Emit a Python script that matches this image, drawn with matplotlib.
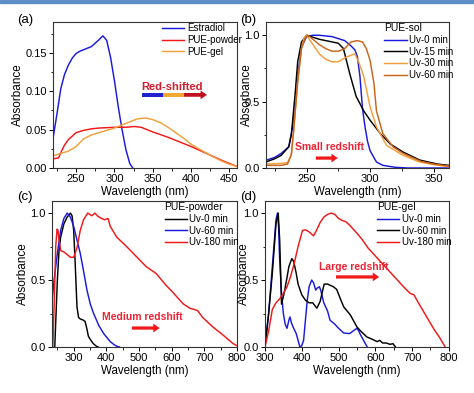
import matplotlib
matplotlib.use("Agg")
import matplotlib.pyplot as plt
from matplotlib.patches import Rectangle, FancyArrow
from matplotlib.ticker import AutoMinorLocator, MultipleLocator

plt.rcParams['font.family'] = ['Liberation Sans', 'DejaVu Sans']

# (a) estradiol vs PUE powder / gel
a_estr_x = [220, 225, 230, 235, 240, 245, 250, 255, 260, 270, 280, 285, 290, 295, 300, 305, 310, 315, 320, 324]
a_estr_y = [0.039, 0.070, 0.103, 0.122, 0.134, 0.143, 0.149, 0.152, 0.154, 0.158, 0.167, 0.172, 0.166, 0.144, 0.114, 0.080, 0.050, 0.024, 0.006, 0.0]
a_pow_x = [220, 227, 231, 235, 240, 250, 260, 270, 280, 300, 315, 326, 335, 350, 370, 400, 420, 440, 450, 460]
a_pow_y = [0.012, 0.013, 0.022, 0.030, 0.037, 0.046, 0.049, 0.051, 0.052, 0.053, 0.053, 0.054, 0.053, 0.047, 0.040, 0.028, 0.019, 0.010, 0.006, 0.002]
a_gel_x = [220, 230, 240, 250, 255, 260, 270, 280, 290, 300, 310, 320, 330, 341, 350, 360, 370, 380, 390, 400, 410, 428, 440, 450, 460]
a_gel_y = [0.016, 0.019, 0.022, 0.028, 0.033, 0.038, 0.043, 0.046, 0.049, 0.052, 0.056, 0.060, 0.064, 0.065, 0.063, 0.059, 0.053, 0.046, 0.039, 0.031, 0.025, 0.015, 0.009, 0.005, 0.002]

# (b) PUE-sol
b_uv0_x = [218, 225, 230, 236, 240, 243, 246, 250, 255, 260, 270, 280, 285, 288, 290, 292, 294, 296, 298, 300, 305, 310, 320, 330, 362]
b_uv0_y = [0.058, 0.08, 0.11, 0.16, 0.36, 0.69, 0.91, 0.99, 1.0, 1.0, 0.99, 0.96, 0.92, 0.89, 0.84, 0.69, 0.45, 0.31, 0.20, 0.13, 0.045, 0.02, 0.005, 0.0, 0.0]
b_uv15_x = [218, 225, 230, 236, 238, 241, 243, 246, 250, 260, 270, 275, 279, 284, 289, 295, 300, 308, 316, 326, 339, 353, 362]
b_uv15_y = [0.045, 0.07, 0.095, 0.16, 0.25, 0.56, 0.80, 0.95, 1.0, 0.97, 0.95, 0.94, 0.90, 0.71, 0.54, 0.43, 0.36, 0.26, 0.18, 0.12, 0.06, 0.03, 0.02]
b_uv30_x = [218, 230, 235, 238, 240, 243, 246, 248, 250, 255, 260, 265, 270, 275, 280, 285, 288, 291, 295, 300, 305, 313, 326, 339, 350, 362]
b_uv30_y = [0.03, 0.035, 0.04, 0.10, 0.30, 0.65, 0.90, 0.98, 1.0, 0.93, 0.86, 0.82, 0.80, 0.80, 0.83, 0.85, 0.86, 0.80, 0.69, 0.46, 0.31, 0.17, 0.095, 0.045, 0.025, 0.01]
b_uv60_x = [218, 230, 235, 238, 240, 243, 246, 249, 251, 255, 260, 265, 270, 275, 280, 285, 290, 294, 297, 300, 303, 305, 310, 318, 326, 340, 350, 362]
b_uv60_y = [0.02, 0.02, 0.03, 0.10, 0.30, 0.65, 0.90, 0.98, 1.0, 0.97, 0.93, 0.90, 0.88, 0.88, 0.90, 0.95, 0.96, 0.95, 0.90, 0.81, 0.64, 0.43, 0.26, 0.16, 0.11, 0.05, 0.03, 0.015]

# (c) PUE-powder
c_uv0_x = [242, 250, 255, 260, 270, 280, 290, 295, 300, 305, 310, 315, 320, 330, 335, 340, 345, 350, 360, 370, 375]
c_uv0_y = [0.0, 0.50, 0.72, 0.82, 0.92, 0.97, 1.0, 0.98, 0.87, 0.60, 0.30, 0.22, 0.21, 0.20, 0.19, 0.14, 0.08, 0.06, 0.025, 0.005, 0.0]
c_uv60_x = [234, 240, 250, 260, 270, 280, 290, 300, 310, 320, 330, 341, 351, 361, 377, 392, 412, 425, 433, 440]
c_uv60_y = [0.35, 0.50, 0.70, 0.87, 0.96, 1.0, 0.97, 0.90, 0.80, 0.70, 0.57, 0.42, 0.32, 0.25, 0.16, 0.10, 0.04, 0.015, 0.005, 0.0]
c_uv180_x = [236, 240, 245, 249, 252, 255, 260, 270, 280, 290, 300, 310, 320, 330, 343, 355, 365, 372, 385, 395, 405, 412, 432, 462, 492, 522, 552, 583, 603, 634, 655, 670, 680, 695, 726, 757, 788, 800]
c_uv180_y = [0.0, 0.30, 0.75, 0.88, 0.87, 0.80, 0.72, 0.71, 0.69, 0.67, 0.67, 0.74, 0.87, 0.95, 1.0, 0.98, 1.0, 0.98, 0.96, 0.95, 0.96, 0.90, 0.82, 0.75, 0.675, 0.60, 0.55, 0.46, 0.41, 0.325, 0.29, 0.28, 0.27, 0.22, 0.15, 0.09, 0.025, 0.01]

# (d) PUE-gel
d_uv0_x = [300, 310, 320, 330, 334, 337, 340, 345, 350, 355, 360, 365, 368, 372, 378, 385, 390, 395, 400, 405, 410, 415, 420, 427, 432, 438, 442, 448, 452, 460, 470, 477, 490, 500, 514, 530, 540, 550, 555, 560, 570, 578]
d_uv0_y = [0.0, 0.25, 0.60, 0.95, 1.0, 0.90, 0.65, 0.40, 0.25, 0.17, 0.14, 0.20, 0.225, 0.18, 0.14, 0.10, 0.05, 0.0, 0.01, 0.05, 0.20, 0.35, 0.45, 0.50, 0.48, 0.425, 0.44, 0.45, 0.42, 0.33, 0.27, 0.20, 0.17, 0.14, 0.105, 0.10, 0.12, 0.14, 0.12, 0.09, 0.04, 0.0]
d_uv60_x = [300, 310, 320, 330, 336, 340, 345, 352, 360, 365, 373, 378, 385, 390, 400, 410, 420, 430, 441, 450, 455, 461, 470, 486, 495, 505, 514, 532, 550, 560, 577, 590, 605, 612, 620, 630, 640, 648, 655]
d_uv60_y = [0.0, 0.25, 0.55, 0.92, 1.0, 0.80, 0.32, 0.40, 0.52, 0.60, 0.66, 0.64, 0.55, 0.47, 0.39, 0.35, 0.33, 0.33, 0.29, 0.34, 0.40, 0.47, 0.47, 0.45, 0.43, 0.36, 0.30, 0.24, 0.15, 0.12, 0.075, 0.06, 0.04, 0.05, 0.03, 0.03, 0.02, 0.025, 0.0]
d_uv180_x = [300, 310, 320, 330, 340, 350, 360, 370, 380, 390, 402, 410, 420, 432, 440, 450, 460, 470, 480, 490, 500, 510, 520, 530, 540, 550, 565, 580, 600, 620, 640, 660, 680, 695, 705, 715, 730, 745, 760, 775, 790]
d_uv180_y = [0.0, 0.12, 0.28, 0.33, 0.36, 0.40, 0.45, 0.53, 0.63, 0.75, 0.87, 0.875, 0.86, 0.83, 0.87, 0.93, 0.97, 0.99, 1.0, 0.99, 0.96, 0.945, 0.935, 0.91, 0.88, 0.85, 0.80, 0.74, 0.68, 0.62, 0.56, 0.50, 0.44, 0.40, 0.39, 0.34, 0.27, 0.20, 0.13, 0.07, 0.0]

BLUE = '#1a1adc'
RED = '#f01818'
ORANGE = '#f2a03c'
DORANGE = '#c8651c'
TXTRED = '#ee2233'

fig = plt.figure(figsize=(4.74, 3.93), dpi=100)
fig.patches.append(Rectangle((0, 1 - 3 / 393), 1, 3 / 393, transform=fig.transFigure,
                             color='#5d8fc6', zorder=0))

ax_a = fig.add_axes([0.112, 0.5725, 0.388, 0.3715])
ax_b = fig.add_axes([0.561, 0.5725, 0.386, 0.3715])
ax_c = fig.add_axes([0.110, 0.117, 0.390, 0.3715])
ax_d = fig.add_axes([0.559, 0.117, 0.388, 0.3715])


def style(ax):
    for s in ax.spines.values():
        s.set_linewidth(0.8)
        s.set_color('#333333')
    ax.xaxis.set_minor_locator(AutoMinorLocator(2))
    ax.yaxis.set_minor_locator(AutoMinorLocator(2))
    ax.tick_params(which='major', direction='out', length=3, width=0.7, labelsize=8, pad=1.5)
    ax.tick_params(which='minor', direction='out', length=1.8, width=0.6)
    ax.set_xlabel('Wavelength (nm)', fontsize=8.3, labelpad=1)
    ax.set_ylabel('Absorbance', fontsize=8.5, labelpad=1)


def legend(ax, x, title=None):
    leg = ax.legend(loc='upper left', bbox_to_anchor=(x, 1.0), frameon=False, fontsize=7,
                    handlelength=2.3, handletextpad=0.25, labelspacing=0.17, borderpad=0.15,
                    borderaxespad=0, title=title, title_fontsize=7.5, alignment='left')
    return leg


lw = 1.05

# (a)
ax_a.plot(a_estr_x, a_estr_y, color=BLUE, lw=lw, label='Estradiol')
ax_a.plot(a_pow_x, a_pow_y, color=RED, lw=lw, label='PUE-powder')
ax_a.plot(a_gel_x, a_gel_y, color=ORANGE, lw=lw, label='PUE-gel')
ax_a.set_xlim(220, 460)
ax_a.set_ylim(0, 0.19)
ax_a.xaxis.set_major_locator(MultipleLocator(50))
ax_a.yaxis.set_major_locator(MultipleLocator(0.05))
ax_a.yaxis.set_major_formatter('{x:.2f}')
style(ax_a)
legend(ax_a, 0.585)
ax_a.text(0.647, 0.555, 'Red-shifted', transform=ax_a.transAxes, ha='center', va='center',
          color='#d01c2c', fontsize=8, fontweight='bold')
ax_a.add_patch(Rectangle((0.484, 0.488), 0.114, 0.026, transform=ax_a.transAxes, color='#2222cc', lw=0))
ax_a.add_patch(Rectangle((0.598, 0.488), 0.114, 0.026, transform=ax_a.transAxes, color='#f0a830', lw=0))
ax_a.add_patch(FancyArrow(0.712, 0.501, 0.09, 0, width=0.026, head_width=0.06, head_length=0.035,
                          length_includes_head=False, transform=ax_a.transAxes, color='#c01020', lw=0))

# (b)
ax_b.plot(b_uv0_x, b_uv0_y, color=BLUE, lw=lw, label='Uv-0 min')
ax_b.plot(b_uv15_x, b_uv15_y, color='black', lw=lw, label='Uv-15 min')
ax_b.plot(b_uv30_x, b_uv30_y, color=ORANGE, lw=lw, label='Uv-30 min')
ax_b.plot(b_uv60_x, b_uv60_y, color=DORANGE, lw=lw, label='Uv-60 min')
ax_b.set_xlim(218, 362)
ax_b.set_ylim(0, 1.1)
ax_b.xaxis.set_major_locator(MultipleLocator(50))
ax_b.yaxis.set_major_locator(MultipleLocator(0.5))
style(ax_b)
ax_b.yaxis.labelpad = -6
legend(ax_b, 0.64, 'PUE-sol')
ax_b.text(0.35, 0.144, 'Small redshift', transform=ax_b.transAxes, ha='center', va='center',
          color=TXTRED, fontsize=7.5, fontweight='bold')
ax_b.add_patch(FancyArrow(0.273, 0.068, 0.085, 0, width=0.022, head_width=0.06, head_length=0.035,
                          transform=ax_b.transAxes, color=RED, lw=0))

# (c)
ax_c.plot(c_uv0_x, c_uv0_y, color='black', lw=lw, label='Uv-0 min')
ax_c.plot(c_uv60_x, c_uv60_y, color=BLUE, lw=lw, label='Uv-60 min')
ax_c.plot(c_uv180_x, c_uv180_y, color=RED, lw=lw, label='Uv-180 min')
ax_c.set_xlim(234, 800)
ax_c.set_ylim(0, 1.09)
ax_c.xaxis.set_major_locator(MultipleLocator(100))
ax_c.yaxis.set_major_locator(MultipleLocator(0.5))
style(ax_c)
legend(ax_c, 0.6, 'PUE-powder')
ax_c.text(0.486, 0.205, 'Medium redshift', transform=ax_c.transAxes, ha='center', va='center',
          color=TXTRED, fontsize=7.5, fontweight='bold')
ax_c.add_patch(FancyArrow(0.432, 0.13, 0.115, 0, width=0.022, head_width=0.06, head_length=0.035,
                          transform=ax_c.transAxes, color=RED, lw=0))

# (d)
ax_d.plot(d_uv0_x, d_uv0_y, color=BLUE, lw=lw, label='Uv-0 min')
ax_d.plot(d_uv60_x, d_uv60_y, color='black', lw=lw, label='Uv-60 min')
ax_d.plot(d_uv180_x, d_uv180_y, color=RED, lw=lw, label='Uv-180 min')
ax_d.set_xlim(300, 800)
ax_d.set_ylim(0, 1.09)
ax_d.xaxis.set_major_locator(MultipleLocator(100))
ax_d.yaxis.set_major_locator(MultipleLocator(0.5))
style(ax_d)
ax_d.yaxis.labelpad = -5
legend(ax_d, 0.6, 'PUE-gel')
ax_d.text(0.484, 0.548, 'Large redshift', transform=ax_d.transAxes, ha='center', va='center',
          color=TXTRED, fontsize=7.5, fontweight='bold')
ax_d.add_patch(FancyArrow(0.386, 0.48, 0.2, 0, width=0.022, head_width=0.06, head_length=0.035,
                          transform=ax_d.transAxes, color=RED, lw=0))

# panel letters
for lab, x, y in [('(a)', 17, 20), ('(b)', 240, 20), ('(c)', 17, 197), ('(d)', 240, 197)]:
    fig.text(x / 474, 1 - y / 393, lab, fontsize=9.5, ha='left', va='center')

fig.savefig('out.png', dpi=100)
